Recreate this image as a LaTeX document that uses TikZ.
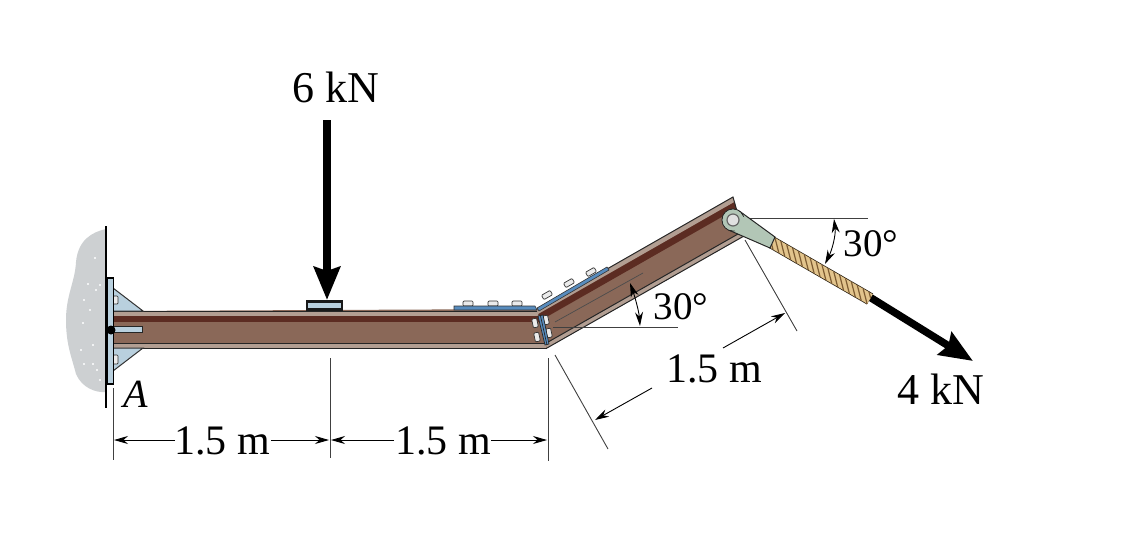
\documentclass[tikz,border=0pt]{standalone}
\usepackage{fontspec}
\setmainfont{Liberation Serif}
\usetikzlibrary{calc,arrows.meta}
\definecolor{tanf}{RGB}{178,158,146}
\definecolor{darkb}{RGB}{92,44,34}
\definecolor{webb}{RGB}{138,104,88}
\definecolor{plateb}{RGB}{88,140,190}
\definecolor{lightb}{RGB}{185,208,222}
\definecolor{wallg}{RGB}{205,208,210}
\definecolor{clev}{RGB}{178,198,182}
\definecolor{rope}{RGB}{226,196,140}
\definecolor{ropeb}{RGB}{125,92,50}
\tikzset{
 x=1pt,y=-1pt,
 lab/.style={font=\fontsize{42}{42}\selectfont,text=black,inner sep=0pt},
 labk/.style={font=\fontsize{44}{44}\selectfont,text=black,inner sep=0pt},
 labd/.style={font=\fontsize{39}{39}\selectfont,text=black,inner sep=0pt},
 dimline/.style={draw=black!75,line width=0.9pt},
 dimarrow/.style={draw=black,line width=0.9pt,-{Stealth[length=14pt,width=8pt]}},
 dimboth/.style={draw=black,line width=0.9pt,{Stealth[length=14pt,width=8pt]}-{Stealth[length=14pt,width=8pt]}},
 loadarrow/.style={draw=black,line width=7.5pt,-{Stealth[length=33pt,width=26pt,inset=4pt]}},
 edge/.style={draw=black!85,line width=1pt},
 bolt/.style={draw=black!80,fill=black!8,line width=0.7pt,rounded corners=1pt},
}
\begin{document}
\begin{tikzpicture}
\useasboundingbox (0,0) rectangle (1129,546);
% wall
\fill[wallg] (106,229) .. controls (92,232) and (78,240) .. (76,262)
 .. controls (75,282) and (66,295) .. (66,320)
 .. controls (66,345) and (72,358) .. (76,374)
 .. controls (82,388) and (96,393) .. (106,392) -- cycle;
\foreach \p in {(95,258),(88,284),(84,300),(96,290),(100,285),(83,323),(93,345),(81,350),(93,364),(100,380),(84,364),(97,370),(90,310)}
 \fill[white] \p circle (1.2);
% named points of the beam
\coordinate (HTL) at (113,311);
\coordinate (HBL) at (113,348);
\coordinate (BT) at (537,309);
\coordinate (BB) at (547,348);
\coordinate (ET) at (733,197);
\coordinate (EB) at (744,236);
% horizontal part
\fill[webb] (HTL) -- (BT) -- (BB) -- (HBL) -- cycle;
\fill[tanf] (113,311) rectangle (538,316);
\fill[darkb] (113,316) rectangle (539,322);
\fill[tanf] (113,343) rectangle (546,348);
\draw[edge] (113,311) -- (537,311);
\draw[edge] (113,343) -- (545,343);
\draw[edge] (HBL) -- (BB);
% inclined part
\fill[webb] (BT) -- (ET) -- (EB) -- (BB) -- cycle;
\fill[tanf] (BT) -- (ET) -- ($(ET)!.13!(EB)$) -- ($(BT)!.13!(BB)$) -- cycle;
\fill[darkb] ($(BT)!.13!(BB)$) -- ($(ET)!.13!(EB)$) -- ($(ET)!.30!(EB)$) -- ($(BT)!.30!(BB)$) -- cycle;
\fill[tanf] ($(BT)!.88!(BB)$) -- ($(ET)!.88!(EB)$) -- (EB) -- (BB) -- cycle;
\draw[edge] (BT) -- (ET) -- (EB) -- (BB);
\draw[edge] ($(BT)!.88!(BB)$) -- ($(ET)!.88!(EB)$);
\draw[draw=black!70,line width=0.7pt] (555,322) -- (643,273);
% blue plates and bolts
\foreach \x in {468,493,517}
 \draw[bolt] (\x-5,306) rectangle (\x+5,301);
\foreach \x/\y in {547/295,569/283,591/272}
 \draw[bolt,rotate around={30:(\x,\y)}] (\x-5,\y-2.5) rectangle (\x+5,\y+2.5);
\fill[plateb,draw=black!80,line width=0.6pt] (454,306) -- (535,306) -- (537,310) -- (454,310) -- cycle;
\fill[plateb,draw=black!80,line width=0.6pt] (537,308) -- (607,267) -- (609,270) -- (539,311) -- cycle;
% splice at bend
\foreach \x/\y in {535/323,537/337,546/320,549/333}
 \draw[bolt,rotate around={12:(\x,\y)}] (\x-2.5,\y-4.5) rectangle (\x+2.5,\y+4.5);
\fill[plateb,draw=black!85,line width=0.7pt] (538,316) -- (543,315) -- (549,344) -- (545,345) -- cycle;
\draw[black!85,line width=0.7pt] (540.5,316) -- (547,345);
% load plate
\node[draw=black!90,fill=lightb,line width=2.4pt,minimum width=35pt,minimum height=8pt,inner sep=0pt] (pad) at (324.5,305.5) {};
% support
\fill[lightb,draw=black!80,line width=1pt] (113,288) -- (143,311) -- (113,311) -- cycle;
\fill[lightb,draw=black!80,line width=1pt] (113,371) -- (143,348) -- (113,348) -- cycle;
\draw[bolt] (113,296) rectangle (118,304);
\draw[bolt] (113,355) rectangle (118,364);
\fill[lightb,draw=black!85,line width=1pt] (113,326.5) rectangle (142,332.5);
\fill[lightb,draw=black,line width=1.6pt] (107,278) rectangle (113.5,384);
\draw[black,line width=1.6pt] (106,226) -- (106,408);
\fill[black] (111,330) circle (4.5);
% dimensions: extension lines
\coordinate (A1) at (113,388); \coordinate (A2) at (113,460);
\coordinate (M1) at (330,358); \coordinate (M2) at (330,458);
\coordinate (R1) at (548,358); \coordinate (R2) at (548,461);
\draw[dimline] (A1) -- (A2);
\draw[dimline] (M1) -- (M2);
\draw[dimline] (R1) -- (R2);
\coordinate (S1) at (555,355); \coordinate (S2) at (608,449);
\coordinate (S3) at (745,240); \coordinate (S4) at (797,331);
\draw[dimline] (S1) -- (S2);
\draw[dimline] (S3) -- (S4);
% labels
\node[labk] (l6) at (336,87) {6 kN};
\node[labk] (l4) at (941,389) {4 kN};
\node[lab,font=\fontsize{40}{40}\selectfont\itshape] (lA) at (136,394) {A};
\node[lab] (d1) at (222,441) {1.5 m};
\node[lab] (d2) at (443,441) {1.5 m};
\node[lab] (d3) at (714,369) {1.5 m};
\node[labd] (a1) at (681,307) {30°};
\node[labd] (a2) at (871,244) {30°};
% dimension arrows
\coordinate (D1a) at (175,440); \coordinate (D1b) at (114,440);
\coordinate (D1c) at (271,440); \coordinate (D1d) at (329,440);
\coordinate (D2a) at (394,440); \coordinate (D2b) at (331,440);
\coordinate (D2c) at (491,440); \coordinate (D2d) at (547,440);
\coordinate (D3a) at (652,388); \coordinate (D3b) at (595,420);
\coordinate (D3c) at (723,348); \coordinate (D3d) at (785,313);
\draw[dimarrow] (D1a) -- (D1b);
\draw[dimarrow] (D1c) -- (D1d);
\draw[dimarrow] (D2a) -- (D2b);
\draw[dimarrow] (D2c) -- (D2d);
\draw[dimarrow] (D3a) -- (D3b);
\draw[dimarrow] (D3c) -- (D3d);
% angle marks
\coordinate (H1) at (553,327); \coordinate (H2) at (678,327);
\draw[dimline] (H1) -- (H2);
\coordinate (G1) at (630,283); \coordinate (G2) at (640,326);
\draw[dimboth] (G1) .. controls (635,297) and (639,312) .. (G2);
\coordinate (H3) at (750,218); \coordinate (H4) at (868,218);
\draw[dimline] (H3) -- (H4);
\coordinate (G3) at (834,219); \coordinate (G4) at (825,264);
\draw[dimboth] (G3) .. controls (836,235) and (832,250) .. (G4);
% load arrow of the cable, under the rope end
\coordinate (F2a) at (868,296); \coordinate (F2b) at (973,361);
\draw[loadarrow] (F2a) -- (F2b);
% rope
\coordinate (C1) at (772,242.5); \coordinate (C2) at (870,299);
\draw[black!70!ropeb,line width=12.5pt] (C1) -- (C2);
\draw[rope,line width=11pt] (C1) -- (C2);
\begin{scope}
\clip (775,237) -- (770,248) -- (867,305) -- (873,294) -- cycle;
\foreach \f in {-0.06,0.0,...,0.96}
 \draw[ropeb,line width=1.2pt] ($(C1)!\f!(C2)+(2.9,-5)$) -- ($(C1)!\f+0.10!(C2)+(-2.9,5)$);
\end{scope}
% clevis
\fill[clev,draw=black!85,line width=1pt] (739.6,211.2) -- (775,237) -- (770,248) -- (729,230.2) -- cycle;
\fill[clev,draw=black!85,line width=1pt] (733,220) circle (11);
\fill[clev] (733,220) circle (10.4);
\fill[clev] (738,213) -- (773,238) -- (769,246.5) -- (731,229) -- cycle;
\node[circle,draw=black!60,fill=black!12,line width=1.2pt,minimum size=12pt,inner sep=0pt] (pin) at (733,220) {};
% load arrow of the pad
\coordinate (F1a) at (327,120); \coordinate (F1b) at (327,300);
\draw[loadarrow] (F1a) -- (F1b);
\end{tikzpicture}
\end{document}
